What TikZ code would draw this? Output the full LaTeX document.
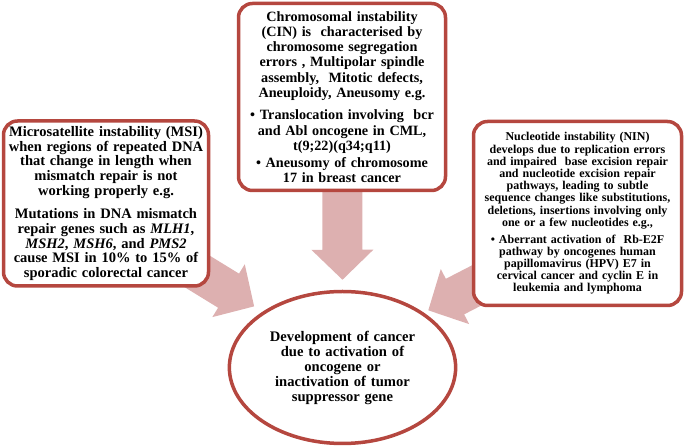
\documentclass[tikz,border=0pt]{standalone}
\usepackage{fontspec}
\setmainfont{Liberation Serif}
\usetikzlibrary{shapes.geometric, calc, positioning, backgrounds}
\definecolor{boxred}{HTML}{B5473F}
\definecolor{arrowpink}{HTML}{DDB0B0}
\tikzstyle{instability} = [rectangle, rounded corners=14pt, draw=boxred, line width=3.5pt, fill=white, inner sep=0pt, align=center]
\tikzstyle{outcome} = [ellipse, draw=boxred, line width=3.5pt, fill=white, inner sep=0pt, align=center]
% broad arrow: shaft 40pt, head 62pt wide and 30pt long, #1 = gap before target
\tikzset{arrow/.style={fill=arrowpink, to path={
  let \p1=(\tikztostart), \p2=($(\tikztotarget)!#1!(\tikztostart)$),
      \n1={atan2(\y2-\y1,\x2-\x1)} in
  ($(\p1)+(\n1+90:20pt)$) -- ($(\p2)+(\n1+180:30pt)+(\n1+90:20pt)$)
  -- ($(\p2)+(\n1+180:30pt)+(\n1+90:31pt)$) -- (\p2)
  -- ($(\p2)+(\n1+180:30pt)+(\n1-90:31pt)$) -- ($(\p2)+(\n1+180:30pt)+(\n1-90:20pt)$)
  -- ($(\p1)+(\n1-90:20pt)$) -- cycle}},
  arrow/.default=10pt}

\begin{document}
\begin{tikzpicture}[x=1pt, y=1pt]
\useasboundingbox (0,0) rectangle (685,446);

% Chromosomal instability
\node (cin) [instability, minimum width=207pt, minimum height=187pt, text width=200pt,
  font=\fontsize{14.2}{15.3}\selectfont\bfseries] at (342,349)
  {Chromosomal instability\\ (CIN) is\ \ characterised by\\ chromosome segregation\\
   errors , Multipolar spindle\\ assembly,\ \ Mitotic defects,\\ Aneuploidy, Aneusomy e.g.\\[7pt]
   • Translocation involving\ \ bcr\\ and Abl oncogene in CML,\\ t(9;22)(q34;q11)\\[1.5pt]
   • Aneusomy of chromosome\\ 17 in breast cancer};

% Microsatellite instability
\node (msi) [instability, minimum width=205pt, minimum height=165pt, text width=200pt,
  font=\fontsize{14.5}{14.7}\selectfont\bfseries] at (106,242.5)
  {Microsatellite instability (MSI)\\ when regions of repeated DNA\\ that change in length when\\
   mismatch repair is not\\ working properly e.g.\\[9pt]
   Mutations in DNA mismatch\\ repair genes such as \textit{MLH1},\\
   \textit{MSH2}, \textit{MSH6}, and \textit{PMS2}\\ cause MSI in 10\% to 15\% of\\
   sporadic colorectal cancer};

% Nucleotide instability
\node (nin) [instability, minimum width=208pt, minimum height=184pt, text width=204pt,
  font=\fontsize{12}{12.2}\selectfont\bfseries] at (577.5,232.5)
  {Nucleotide instability (NIN)\\ develops due to replication errors\\ and impaired\ \ base excision repair\\
   and nucleotide excision repair\\ pathways, leading to subtle\\ sequence changes like substitutions,\\
   deletions, insertions involving only\\ one or a few nucleotides e.g.,\\[4.5pt]
   • Aberrant activation of\ \ Rb-E2F\\ pathway by oncogenes human\\ papillomavirus (HPV) E7 in\\
   cervical cancer and cyclin E in\\ leukemia and lymphoma};

% Outcome
\node (cancer) [outcome, minimum width=212pt, minimum height=152pt, text width=160pt,
  font=\fontsize{14.6}{15}\selectfont\bfseries] at (342.5,78.5)
  {Development of cancer\\ due to activation of\\ oncogene or\\ inactivation of tumor\\ suppressor gene};

% Arrows
\coordinate (msifoot) at ([yshift=-12pt]msi.center);
\coordinate (ninfoot) at ([yshift=-20pt]nin.center);
\begin{scope}[on background layer]
\path [arrow] (cin) to (cancer.north);
\path [arrow] (msifoot) to (cancer.145);
\path [arrow=5pt] (ninfoot) to (cancer.34);
\end{scope}

\end{tikzpicture}
\end{document}
